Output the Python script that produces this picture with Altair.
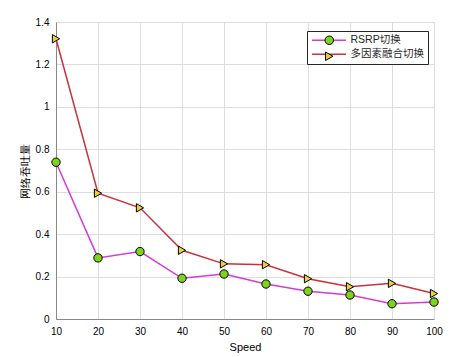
import altair as alt
import pandas as pd

speed = [10, 20, 30, 40, 50, 60, 70, 80, 90, 100]
rsrp = [0.739, 0.288, 0.318, 0.192, 0.212, 0.165, 0.131, 0.113, 0.072, 0.080]
multi = [1.321, 0.593, 0.524, 0.324, 0.260, 0.256, 0.190, 0.152, 0.168, 0.120]
names = ["RSRP切换", "多因素融合切换"]
marker_names = [n + " " for n in names]

line_colors = ["#d63ad6", "#c8323a"]
marker_fills = ["#7ed321", "#e8d230"]
marker_shapes = ["circle", "triangle-right"]

rows = []
for s, v in zip(speed, rsrp):
    rows.append({"speed": s, "value": v, "method": names[0]})
for s, v in zip(speed, multi):
    rows.append({"speed": s, "value": v, "method": names[1]})
df = pd.DataFrame(rows)

FONT = "'Liberation Sans', 'Noto Sans CJK SC'"

x = alt.X("speed:Q", title="Speed",
          scale=alt.Scale(domain=[10, 100], nice=False, zero=False),
          axis=alt.Axis(values=speed, format="d", tickSize=0, labelPadding=7,
                        labelFlush=False, titlePadding=5, titleFontWeight="normal"))
y = alt.Y("value:Q", title="网络吞吐量",
          scale=alt.Scale(domain=[0, 1.4], nice=False),
          axis=alt.Axis(values=[0, 0.2, 0.4, 0.6, 0.8, 1.0, 1.2, 1.4],
                        format="~g", tickSize=0, labelPadding=7, labelFlush=False,
                        titlePadding=5, titleFontWeight="normal"))

leg_common = dict(title=None, orient="none", legendY=9, padding=4,
                  labelFont=FONT, labelFontSize=10.5, rowPadding=3, symbolSize=72)

lines = alt.Chart(df).mark_line(strokeWidth=1.5).encode(
    x=x, y=y,
    color=alt.Color("method:N",
                    scale=alt.Scale(domain=names, range=line_colors),
                    legend=alt.Legend(legendX=251, symbolType="M-1,0H7",
                                      symbolStrokeWidth=1.5, labelOffset=29,
                                      fillColor="white", strokeColor="#262626",
                                      labelColor="#262626", zindex=0, **leg_common)),
)

marker_leg = dict(legendX=264, symbolStrokeWidth=1, symbolOpacity=1,
                  labelExpr="''", labelOffset=0, zindex=1, **leg_common)

points = alt.Chart(df).transform_calculate(method2="datum.method + ' '").mark_point(
    filled=True, size=70, strokeWidth=1, opacity=1
).encode(
    x=x, y=y,
    fill=alt.Fill("method2:N",
                  scale=alt.Scale(domain=marker_names, range=marker_fills),
                  legend=alt.Legend(**marker_leg)),
    shape=alt.Shape("method2:N",
                    scale=alt.Scale(domain=marker_names, range=marker_shapes),
                    legend=alt.Legend(**marker_leg)),
    stroke=alt.Stroke("method2:N",
                      scale=alt.Scale(domain=marker_names, range=["black", "black"]),
                      legend=alt.Legend(**marker_leg)),
)

chart = alt.layer(lines, points).properties(
    width=378, height=297,
    autosize=alt.AutoSizeParams(type="none"),
    padding={"left": 48, "top": 14, "right": 32, "bottom": 40},
).configure_view(
    stroke="#262626", strokeWidth=1
).configure_axis(
    labelFont=FONT, titleFont=FONT, labelFontSize=12, titleFontSize=12,
    labelColor="#262626", titleColor="#262626",
    domainColor="#262626", gridColor="#e3e3e3", gridWidth=1,
).configure(background="white")

chart.save("out.html", embed_options={"renderer": "svg", "actions": False})
